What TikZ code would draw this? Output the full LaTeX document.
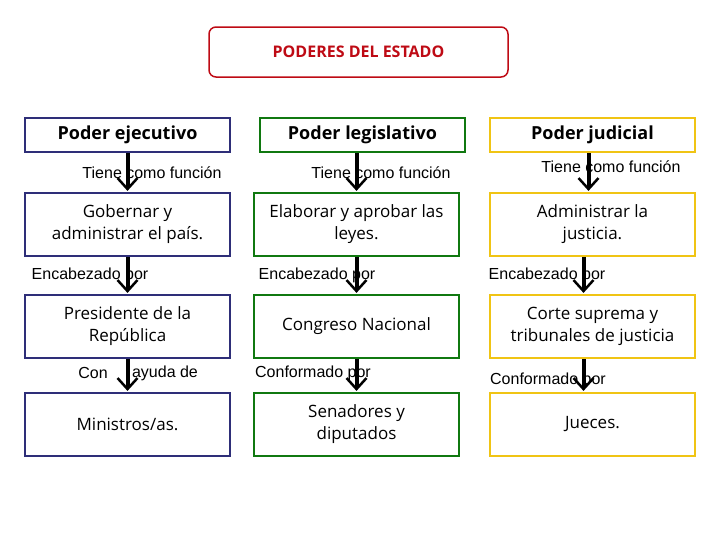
\documentclass[tikz,border=0pt]{standalone}
\usepackage{fontspec}
\setmainfont{Open Sans}
\newfontfamily\lab{Liberation Sans}
\usetikzlibrary{arrows.meta}
\definecolor{cA}{RGB}{46,46,120}
\definecolor{cB}{RGB}{16,120,16}
\definecolor{cC}{RGB}{240,196,20}
\definecolor{cR}{RGB}{190,10,20}
\begin{document}
\begin{tikzpicture}[x=1pt,y=-1pt,
 bx/.style={draw=#1,line width=2.2pt,fill=white,minimum width=205pt,minimum height=63pt,align=center,font=\fontsize{17}{22}\selectfont,inner sep=2pt},
 hd/.style={draw=#1,line width=2.2pt,fill=white,minimum width=205pt,minimum height=34pt,font=\bfseries\fontsize{18}{20}\selectfont},
 lb/.style={font=\lab\fontsize{16}{18}\selectfont,inner sep=0pt},
 ar/.style={line width=4pt,-{Straight Barb[length=11pt,width=20pt,line width=2.5pt]},shorten >=1pt}]
\useasboundingbox (0,0) rectangle (728,546);
\node[draw=cR,line width=1.5pt,rounded corners=7pt,minimum width=299pt,minimum height=50pt,text=cR,font=\bfseries\fontsize{16}{18}\selectfont] (t) at (358.5,52) {PODERES DEL ESTADO};
% labels
\node[lb] (l1) at (152,173) {Tiene como función};
\node[lb] (l2) at (381,173) {Tiene como función};
\node[lb] (l3) at (611,167) {Tiene como función};
\node[lb] (m1) at (90,275) {Encabezado por};
\node[lb] (m2) at (317,275) {Encabezado por};
\node[lb] (m3) at (547,275) {Encabezado por};
\node[lb] (n1a) at (93,373) {Con};
\node[lb] (n1b) at (165,373) {ayuda de};
\node[lb] (n2) at (313,373) {Conformado por};
\node[lb] (n3) at (548,380) {Conformado por};
% col1
\node[hd=cA] (a1) at (127.5,135) {Poder ejecutivo};
\node[bx=cA] (a2) at (127.5,224.5) {Gobernar y\\administrar el país.};
\node[bx=cA] (a3) at (127.5,326.5) {Presidente de la\\República};
\node[bx=cA] (a4) at (127.5,424.5) {Ministros/as.};
% col2
\node[hd=cB] (b1) at (362.5,135) {Poder legislativo};
\node[bx=cB] (b2) at (356.5,224.5) {Elaborar y aprobar las\\leyes.};
\node[bx=cB] (b3) at (356.5,326.5) {Congreso Nacional};
\node[bx=cB] (b4) at (356.5,424.5) {Senadores y\\diputados};
% col3
\node[hd=cC] (c1) at (592.5,135) {Poder judicial};
\node[bx=cC] (c2) at (592.5,224.5) {Administrar la\\justicia.};
\node[bx=cC] (c3) at (592.5,326.5) {Corte suprema y\\tribunales de justicia};
\node[bx=cC] (c4) at (592.5,424.5) {Jueces.};
% arrows
\draw[ar] (a1.south) -- (a2.north);
\draw[ar] (a2.south) -- (a3.north);
\draw[ar] (a3.south) -- (a4.north);
\draw[ar] (b1.south -| b2.north) -- (b2.north);
\draw[ar] (b2.south) -- (b3.north);
\draw[ar] (b3.south) -- (b4.north);
\draw[ar] ([xshift=-4pt]c1.south) -- ([xshift=-4pt]c2.north);
\draw[ar] ([xshift=-9pt]c2.south) -- ([xshift=-9pt]c3.north);
\draw[ar] ([xshift=-9pt]c3.south) -- ([xshift=-9pt]c4.north);
\end{tikzpicture}
\end{document}
